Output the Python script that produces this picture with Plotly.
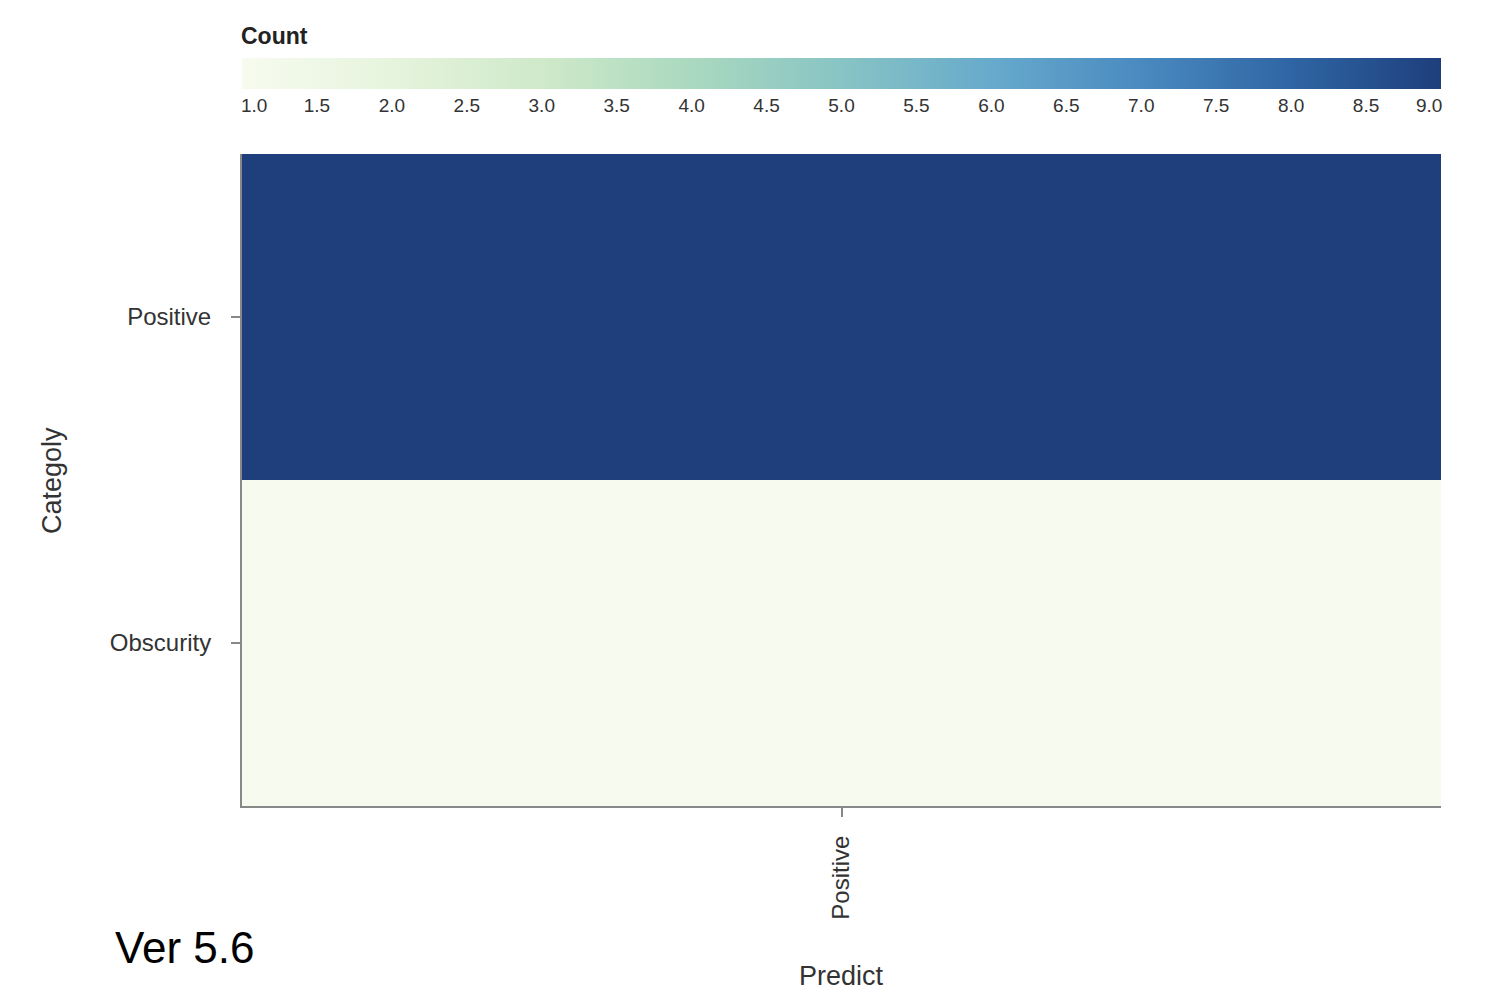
import plotly.graph_objects as go

# Data
predict_categories = ["Positive"]
category_labels = ["Positive", "Obscurity"]
counts = [[9], [1]]  # rows follow category_labels, columns follow predict_categories
colorbar_ticks = [1.0, 1.5, 2.0, 2.5, 3.0, 3.5, 4.0, 4.5, 5.0, 5.5, 6.0, 6.5, 7.0, 7.5, 8.0, 8.5, 9.0]

FONT = "Liberation Sans, Arial, Helvetica, sans-serif"
TXT = "#333333"
AXC = "#888888"

# page offset of the plot div (body margin)
OFF = 8
PLOT_L, PLOT_T, PLOT_W, PLOT_H = 242 - OFF, 154 - OFF, 1199, 652
PLOT_B = PLOT_T + PLOT_H  # figure-coordinate bottom of plot area


def py(y_page):
    """page pixel y -> paper y"""
    return (PLOT_B - (y_page - OFF)) / PLOT_H


def px(x_page):
    return ((x_page - OFF) - PLOT_L) / PLOT_W


colorscale = [
    [0.0, "#f7fbef"],
    [0.125, "#e6f4dd"],
    [0.25, "#cfe9c9"],
    [0.375, "#aad9bf"],
    [0.5, "#88c4c4"],
    [0.625, "#67aacc"],
    [0.75, "#4a8ac0"],
    [0.875, "#2f65a4"],
    [1.0, "#1e3f7c"],
]

zmin, zmax = colorbar_ticks[0], colorbar_ticks[-1]
# end labels are aligned to the bar ends (drawn as annotations below)
inner_text = [f"{v:.1f}" if v not in (zmin, zmax) else "" for v in colorbar_ticks]

fig = go.Figure(
    go.Heatmap(
        x=predict_categories,
        y=category_labels,
        z=counts,
        zmin=zmin,
        zmax=zmax,
        colorscale=colorscale,
        xgap=0,
        ygap=0,
        colorbar=dict(
            orientation="h",
            x=0,
            xanchor="left",
            xref="paper",
            y=py(58),
            yanchor="top",
            yref="paper",
            len=1,
            lenmode="fraction",
            thickness=31,
            thicknessmode="pixels",
            xpad=0,
            ypad=0,
            outlinewidth=0,
            ticks="",
            tickvals=colorbar_ticks,
            ticktext=inner_text,
            tickfont=dict(family=FONT, size=19, color=TXT),
            ticklabelposition="outside bottom",
        ),
    )
)

label_y = py(106)
end_font = dict(family=FONT, size=19, color=TXT)

fig.update_layout(
    width=1503 - OFF,
    height=1007 - OFF,
    margin=dict(l=PLOT_L, r=1503 - OFF - PLOT_L - PLOT_W, t=PLOT_T,
                b=1007 - OFF - PLOT_B, pad=0),
    paper_bgcolor="white",
    plot_bgcolor="white",
    font=dict(family=FONT, color=TXT),
    xaxis=dict(
        showgrid=False,
        zeroline=False,
        showline=True,
        linecolor=AXC,
        linewidth=2,
        ticks="outside",
        ticklen=9,
        tickwidth=2,
        tickcolor=AXC,
        tickangle=-90,
        tickfont=dict(family=FONT, size=24, color=TXT),
        ticklabelstandoff=9,
    ),
    yaxis=dict(
        showgrid=False,
        zeroline=False,
        showline=True,
        linecolor=AXC,
        linewidth=2,
        ticks="outside",
        ticklen=9,
        tickwidth=2,
        tickcolor=AXC,
        autorange="reversed",
        tickfont=dict(family=FONT, size=24, color=TXT),
        ticklabelstandoff=15,
    ),
    annotations=[
        dict(text="Count", x=px(240), y=py(36), xref="paper", yref="paper",
             xanchor="left", yanchor="middle", showarrow=False, borderpad=0,
             font=dict(family=FONT, size=23, color="#222222", weight="bold")),
        dict(text=f"{zmin:.1f}", x=px(240), y=label_y, xref="paper", yref="paper",
             xanchor="left", yanchor="middle", showarrow=False, borderpad=0,
             font=end_font),
        dict(text=f"{zmax:.1f}", x=px(1443), y=label_y, xref="paper", yref="paper",
             xanchor="right", yanchor="middle", showarrow=False, borderpad=0,
             font=end_font),
        dict(text="Predict", x=0.5, y=py(976), xref="paper", yref="paper",
             xanchor="center", yanchor="middle", showarrow=False,
             font=dict(family=FONT, size=27, color=TXT)),
        dict(text="Categoly", x=px(52), y=py(481), xref="paper", yref="paper",
             xanchor="center", yanchor="middle", showarrow=False, textangle=-90,
             font=dict(family=FONT, size=27, color=TXT)),
        dict(text="Ver 5.6", x=px(113), y=py(947), xref="paper", yref="paper",
             xanchor="left", yanchor="middle", showarrow=False,
             font=dict(family=FONT, size=44, color="black")),
    ],
)

fig.write_html("out.html")
